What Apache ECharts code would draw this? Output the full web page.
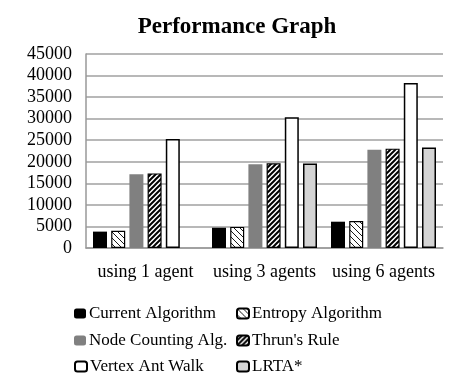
<!DOCTYPE html>
<html><head><meta charset="utf-8">
<script src="https://cdn.jsdelivr.net/npm/echarts@6/dist/echarts.min.js"></script>
<style>html,body{margin:0;padding:0;background:#fff}#c{width:474px;height:386px}</style>
</head><body><div id="c"></div>
<script>
const categories = ['using 1 agent', 'using 3 agents', 'using 6 agents'];
const seriesNames = ['Current Algorithm', 'Entropy Algorithm', 'Node Counting Alg.', "Thrun's Rule", 'Vertex Ant Walk', 'LRTA*'];
const currentAlg = [3800, 4700, 6100];
const entropyAlg = [4000, 4900, 6250];
const nodeCounting = [17100, 19400, 22800];
const thrunsRule = [17300, 19650, 23050];
const vertexAntWalk = [25300, 30300, 38300];
const lrta = [null, 19600, 23300];
const yTicks = { min: 0, max: 45000, interval: 5000 };

function hatch(dir, lw, size) {
  const c = document.createElement('canvas');
  c.width = size; c.height = size;
  const g = c.getContext('2d');
  g.fillStyle = '#fff'; g.fillRect(0, 0, size, size);
  g.strokeStyle = '#000'; g.lineWidth = lw; g.lineCap = 'square';
  g.beginPath();
  if (dir === 'back') {
    g.moveTo(0, 0); g.lineTo(size, size);
    g.moveTo(-size/2, size/2); g.lineTo(size/2, size*1.5);
    g.moveTo(size/2, -size/2); g.lineTo(size*1.5, size/2);
  } else {
    g.moveTo(0, size); g.lineTo(size, 0);
    g.moveTo(-size/2, size/2); g.lineTo(size/2, -size/2);
    g.moveTo(size/2, size*1.5); g.lineTo(size*1.5, size/2);
  }
  g.stroke();
  return { image: c, repeat: 'repeat' };
}

const font = 'Liberation Serif';
const styles = [
  { color: '#000000' },
  { color: hatch('back', 0.9, 6), borderColor: '#000', borderWidth: 1.2 },
  { color: '#808080' },
  { color: hatch('fwd', 2, 5), borderColor: '#000', borderWidth: 1.2 },
  { color: '#ffffff', borderColor: '#000', borderWidth: 1.5 },
  { color: '#d4d4d4', borderColor: '#000', borderWidth: 1.5 }
];
const dataArr = [currentAlg, entropyAlg, nodeCounting, thrunsRule, vertexAntWalk, lrta];

const legendPos = [
  { left: 74, top: 305 }, { left: 236, top: 305 },
  { left: 74, top: 332 }, { left: 236, top: 332 },
  { left: 74, top: 358 }, { left: 236, top: 358 }
];

const chart = echarts.init(document.getElementById('c'));
chart.setOption({
  animation: false,
  backgroundColor: '#fff',
  title: { text: 'Performance Graph', left: 'center', top: 11,
    textStyle: { fontFamily: font, fontSize: 23, fontWeight: 'bold', color: '#000' } },
  grid: { left: 86, right: 31, top: 54, bottom: 138 },
  legend: seriesNames.map((n, i) => ({
    data: [n], left: legendPos[i].left, top: legendPos[i].top,
    itemWidth: 12, itemHeight: 10, itemGap: 3, padding: 0,
    textStyle: { fontFamily: font, fontSize: 17, color: '#000', padding: [0, 0, 0, -2] }
  })),
  xAxis: {
    type: 'category', data: categories,
    axisLine: { lineStyle: { color: '#999', width: 1.5 } },
    axisTick: { show: false },
    axisLabel: { fontFamily: font, fontSize: 18, color: '#000', margin: 15, interval: 0 }
  },
  yAxis: {
    type: 'value', min: yTicks.min, max: yTicks.max, interval: yTicks.interval,
    axisLine: { show: true, lineStyle: { color: '#999', width: 1.5 } },
    axisTick: { show: false },
    splitLine: { lineStyle: { color: '#a0a0a0', width: 1.5 } },
    axisLabel: { fontFamily: font, fontSize: 18, color: '#000', margin: 14,
      formatter: v => String(v) }
  },
  series: seriesNames.map((n, i) => ({
    name: n, type: 'bar', data: dataArr[i], barWidth: 14, barGap: '30%',
    itemStyle: styles[i]
  }))
});
</script></body></html>
